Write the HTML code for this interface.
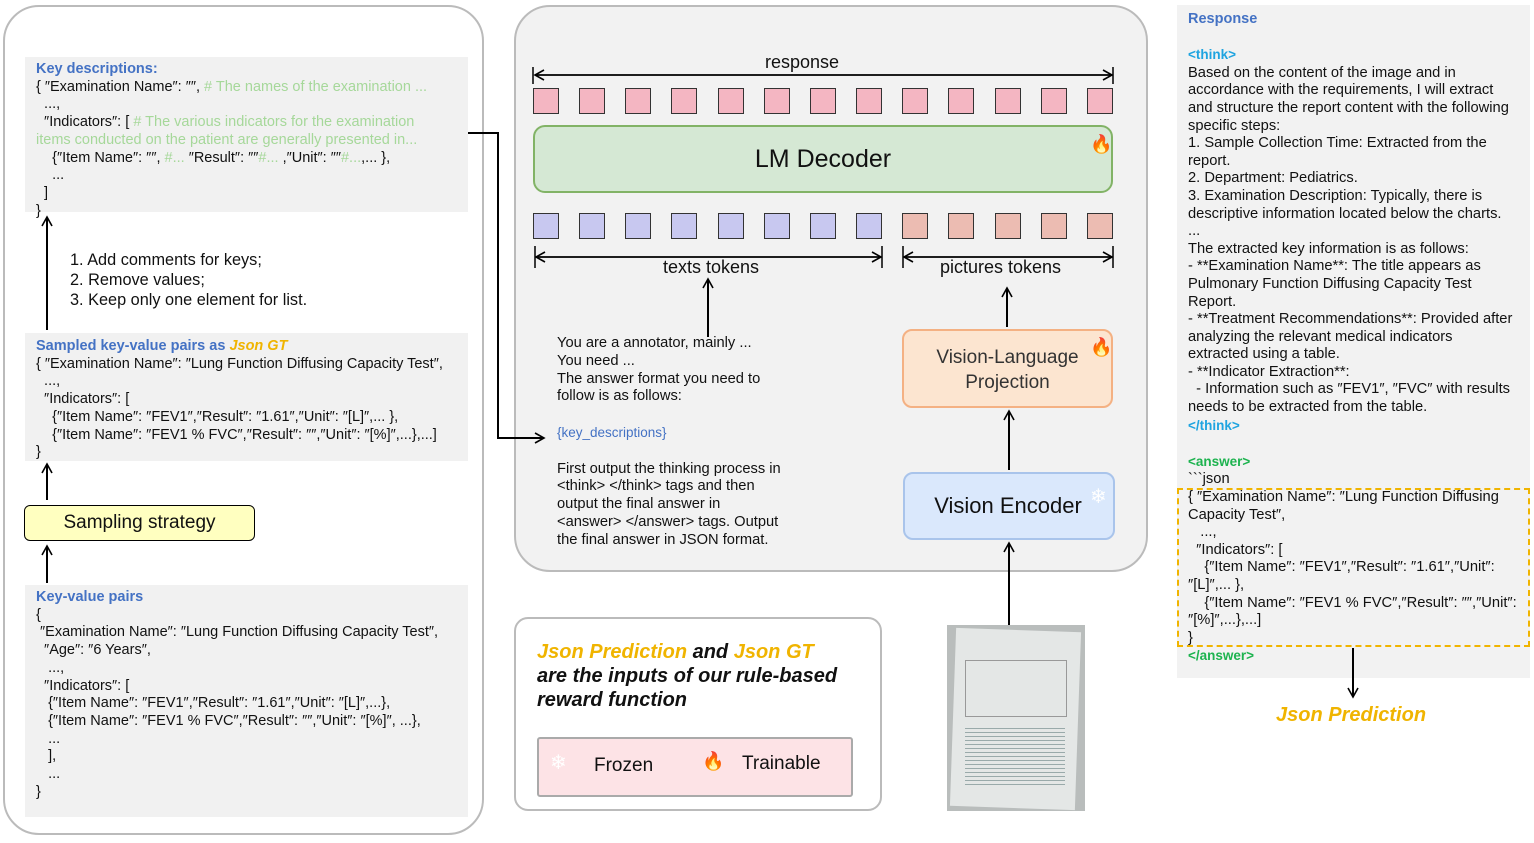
<!DOCTYPE html>
<html><head><meta charset="utf-8"><style>
body{margin:0;width:1534px;height:843px;background:#fff;position:relative;overflow:hidden;font-family:"Liberation Sans",Arial,sans-serif;color:#111}
.a{position:absolute}
.t{position:absolute;white-space:pre;line-height:17.7px;font-size:14.5px}
.b{color:#4472c4;font-weight:bold;font-size:14.5px}
.g{color:#a6d89a}
.y{color:#f0b400;font-weight:bold;font-style:italic}
.tok{position:absolute;width:26px;height:26px;border:1.5px solid #333;box-sizing:border-box}
.p{background:#f4b6c2;top:88px}
.u{background:#c8c8f0;top:213px}
.s{background:#ecbcb2;top:213px}
.r{position:absolute;white-space:pre;line-height:17.6px;font-size:14.7px}
</style></head><body>
<!-- left panel -->
<div class="a" style="left:3px;top:5px;width:481px;height:830px;border:2px solid #bbb;border-radius:36px;box-sizing:border-box"></div>
<div class="a" style="left:25px;top:57px;width:443px;height:155px;background:#f1f1f1"></div>
<div class="a" style="left:25px;top:333px;width:443px;height:128px;background:#f1f1f1"></div>
<div class="a" style="left:25px;top:585px;width:443px;height:232px;background:#f1f1f1"></div>
<div class="t" style="left:36px;top:61px"><span class="b">Key descriptions:</span>
{ ″Examination Name″: ″″, <span class="g"># The names of the examination ...</span>
  ...,
  ″Indicators″: [ <span class="g"># The various indicators for the examination</span>
<span class="g">items conducted on the patient are generally presented in...</span>
    {″Item Name″: ″″, <span class="g">#...</span> ″Result″: ″″<span class="g">#...</span> ,″Unit″: ″″<span class="g">#...</span>,... },
    ...
  ]
}</div>
<div class="a" style="left:70px;top:250px;font-size:16.3px;line-height:20px;white-space:pre">1. Add comments for keys;
2. Remove values;
3. Keep only one element for list.</div>
<div class="t" style="left:36px;top:338px"><span class="b">Sampled key-value pairs as </span><span class="y" style="font-size:14.5px">Json GT</span>
{ ″Examination Name″: ″Lung Function Diffusing Capacity Test″,
  ...,
  ″Indicators″: [
    {″Item Name″: ″FEV1″,″Result″: ″1.61″,″Unit″: ″[L]″,... },
    {″Item Name″: ″FEV1 % FVC″,″Result″: ″″,″Unit″: ″[%]″,...},...]
}</div>
<div class="a" style="left:24px;top:505px;width:231px;height:36px;background:#ffffc0;border:1.5px solid #000;border-radius:6px;box-sizing:border-box;text-align:center;line-height:33px;font-size:19px">Sampling strategy</div>
<div class="t" style="left:36px;top:589px"><span class="b">Key-value pairs</span>
{
 ″Examination Name″: ″Lung Function Diffusing Capacity Test″,
  ″Age″: ″6 Years″,
   ...,
  ″Indicators″: [
   {″Item Name″: ″FEV1″,″Result″: ″1.61″,″Unit″: ″[L]″,...},
   {″Item Name″: ″FEV1 % FVC″,″Result″: ″″,″Unit″: ″[%]″, ...},
   ...
   ],
   ...
}</div>
<!-- center panel -->
<div class="a" style="left:514px;top:5px;width:634px;height:567px;background:#f2f2f2;border:2px solid #bbb;border-radius:36px;box-sizing:border-box"></div>
<div class="a" style="left:533px;top:125px;width:580px;height:68px;background:#d5e8d4;border:2px solid #82b366;border-radius:12px;box-sizing:border-box;text-align:center;line-height:64px;font-size:25px">LM Decoder</div>
<div class="a" style="left:1090px;top:134px;font-size:18px">🔥</div>
<div class="a" style="left:902px;top:329px;width:211px;height:79px;background:#fce5d0;border:2px solid #f4b183;border-radius:10px;box-sizing:border-box;text-align:center;padding-top:14px;font-size:19px;line-height:25px;color:#333">Vision-Language<br>Projection</div>
<div class="a" style="left:1090px;top:337px;font-size:18px">🔥</div>
<div class="a" style="left:903px;top:472px;width:212px;height:68px;background:#dae8fc;border:2px solid #a9c4eb;border-radius:10px;box-sizing:border-box;text-align:center;line-height:64px;font-size:22px;padding-right:2px">Vision Encoder</div>
<div class="a" style="left:1090px;top:484px;font-size:20px;color:#fff">❄</div>
<div class="a" style="left:765px;top:52px;font-size:18px">response</div>
<div class="a" style="left:663px;top:257px;font-size:18px">texts tokens</div>
<div class="a" style="left:940px;top:257px;font-size:18px">pictures tokens</div>
<div class="a" style="left:557px;top:335px;font-size:14.7px;line-height:17.8px;white-space:pre">You are a annotator, mainly ...
You need ...
The answer format you need to
follow is as follows:

<span style="color:#4472c4;font-size:13.5px">{key_descriptions}</span>

First output the thinking process in
&lt;think&gt; &lt;/think&gt; tags and then
output the final answer in
&lt;answer&gt; &lt;/answer&gt; tags. Output
the final answer in JSON format.</div>
<!-- tokens -->
<div class="tok p" style="left:533px"></div><div class="tok p" style="left:579px"></div><div class="tok p" style="left:625px"></div><div class="tok p" style="left:671px"></div><div class="tok p" style="left:718px"></div><div class="tok p" style="left:764px"></div><div class="tok p" style="left:810px"></div><div class="tok p" style="left:856px"></div><div class="tok p" style="left:902px"></div><div class="tok p" style="left:948px"></div><div class="tok p" style="left:995px"></div><div class="tok p" style="left:1041px"></div><div class="tok p" style="left:1087px"></div>
<div class="tok u" style="left:533px"></div><div class="tok u" style="left:579px"></div><div class="tok u" style="left:625px"></div><div class="tok u" style="left:671px"></div><div class="tok u" style="left:718px"></div><div class="tok u" style="left:764px"></div><div class="tok u" style="left:810px"></div><div class="tok u" style="left:856px"></div><div class="tok s" style="left:902px"></div><div class="tok s" style="left:948px"></div><div class="tok s" style="left:995px"></div><div class="tok s" style="left:1041px"></div><div class="tok s" style="left:1087px"></div>
<!-- legend -->
<div class="a" style="left:514px;top:617px;width:368px;height:194px;border:2px solid #bbb;border-radius:14px;box-sizing:border-box"></div>
<div class="a" style="left:537px;top:640px;font-size:20px;line-height:24px;font-weight:bold;font-style:italic;white-space:pre"><span style="color:#f0b400">Json Prediction</span> and <span style="color:#f0b400">Json GT</span>
are the inputs of our rule-based
reward function</div>
<div class="a" style="left:537px;top:737px;width:316px;height:60px;background:#fde3e6;border:2px solid #aaa;border-radius:3px;box-sizing:border-box"></div>
<div class="a" style="left:550px;top:750px;font-size:20px;color:#fff">❄</div>
<div class="a" style="left:594px;top:755px;font-size:19px">Frozen</div>
<div class="a" style="left:702px;top:751px;font-size:18px">🔥</div>
<div class="a" style="left:742px;top:753px;font-size:19px">Trainable</div>
<!-- photo -->
<div class="a" style="left:947px;top:625px;width:138px;height:186px;background:#b9bdbc"></div>
<div class="a" style="left:953px;top:630px;width:125px;height:178px;background:#e4e7e6;transform:rotate(2deg)"></div>
<div class="a" style="left:965px;top:660px;width:100px;height:55px;border:1px solid #999"></div>
<div class="a" style="left:965px;top:725px;width:100px;height:60px;background:repeating-linear-gradient(#e4e7e6 0 3px,#9aa 3px 4px)"></div>
<!-- right panel -->
<div class="a" style="left:1177px;top:5px;width:353px;height:673px;background:#f2f2f2"></div>
<div class="r" style="left:1188px;top:11px"><span class="b">Response</span>

<span style="color:#1fa4e0;font-weight:bold;font-size:13.5px">&lt;think&gt;</span>
Based on the content of the image and in
accordance with the requirements, I will extract
and structure the report content with the following
specific steps:
1. Sample Collection Time: Extracted from the
report.
2. Department: Pediatrics.
3. Examination Description: Typically, there is
descriptive information located below the charts.
...
The extracted key information is as follows:
- **Examination Name**: The title appears as
Pulmonary Function Diffusing Capacity Test
Report.
- **Treatment Recommendations**: Provided after
analyzing the relevant medical indicators
extracted using a table.
- **Indicator Extraction**:
  - Information such as ″FEV1″, ″FVC″ with results
needs to be extracted from the table.
<span style="color:#1fa4e0;font-weight:bold;font-size:13.5px">&lt;/think&gt;</span>

<span style="color:#1db34f;font-weight:bold;font-size:13.5px">&lt;answer&gt;</span>
&#96;&#96;&#96;json
{ ″Examination Name″: ″Lung Function Diffusing
Capacity Test″,
   ...,
  ″Indicators″: [
    {″Item Name″: ″FEV1″,″Result″: ″1.61″,″Unit″:
″[L]″,... },
    {″Item Name″: ″FEV1 % FVC″,″Result″: ″″,″Unit″:
″[%]″,...},...]
}
<span style="color:#1db34f;font-weight:bold;font-size:13.5px">&lt;/answer&gt;</span></div>
<div class="a" style="left:1177px;top:488px;width:353px;height:159px;border:2px dashed #f0b400;box-sizing:border-box"></div>
<div class="a y" style="left:1276px;top:704px;font-size:20px">Json Prediction</div>
<svg class="a" style="left:0;top:0" width="1534" height="843">
<defs><marker id="m" markerWidth="12" markerHeight="12" refX="10" refY="6" orient="auto" markerUnits="userSpaceOnUse"><path d="M1,1 L10,6 L1,11" fill="none" stroke="#000" stroke-width="1.6"/></marker></defs>
<g stroke="#000" stroke-width="2" fill="none">
<line x1="47" y1="330" x2="47" y2="217" marker-end="url(#m)"/>
<line x1="47" y1="500" x2="47" y2="464" marker-end="url(#m)"/>
<line x1="47" y1="583" x2="47" y2="546" marker-end="url(#m)"/>
<polyline points="468,133 498,133 498,438 544,438" marker-end="url(#m)"/>
<line x1="708" y1="337" x2="708" y2="279" marker-end="url(#m)"/>
<line x1="1007" y1="327" x2="1007" y2="288" marker-end="url(#m)"/>
<line x1="1009" y1="470" x2="1009" y2="411" marker-end="url(#m)"/>
<line x1="1009" y1="625" x2="1009" y2="543" marker-end="url(#m)"/>
<line x1="1353" y1="648" x2="1353" y2="697" marker-end="url(#m)"/>
</g>
<g stroke="#000" stroke-width="1.5" fill="none">
<line x1="533" y1="67" x2="533" y2="84"/><line x1="1113" y1="67" x2="1113" y2="84"/>
<line x1="535" y1="75" x2="1112" y2="75" marker-end="url(#m)"/><line x1="1111" y1="75" x2="535" y2="75" marker-end="url(#m)"/>
<line x1="535" y1="246" x2="535" y2="268"/><line x1="882" y1="246" x2="882" y2="268"/>
<line x1="537" y1="257" x2="881" y2="257" marker-end="url(#m)"/><line x1="880" y1="257" x2="536" y2="257" marker-end="url(#m)"/>
<line x1="903" y1="246" x2="903" y2="268"/><line x1="1113" y1="246" x2="1113" y2="268"/>
<line x1="905" y1="257" x2="1112" y2="257" marker-end="url(#m)"/><line x1="1111" y1="257" x2="904" y2="257" marker-end="url(#m)"/>
</g>
</svg>
</body></html>
